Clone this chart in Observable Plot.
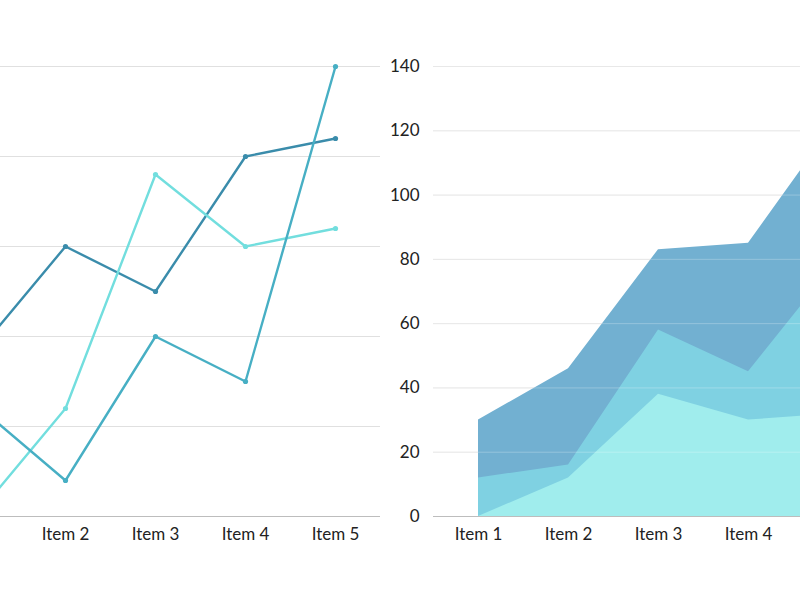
<!DOCTYPE html>
<html>
<head>
<meta charset="utf-8">
<script src="https://cdn.jsdelivr.net/npm/d3@7"></script>
<script src="https://cdn.jsdelivr.net/npm/@observablehq/plot@0.6"></script>
<style>
  html, body { margin: 0; padding: 0; background: #fff; }
  body { width: 800px; height: 600px; overflow: hidden; position: relative; font-family: Lato, "Noto Sans", sans-serif; }
  #left, #right { position: absolute; top: 0; }
  #left { left: -130px; width: 510px; }
  #right { left: 388px; width: 495px; }
  svg { max-width: none !important; }
</style>
</head>
<body>
<div id="left"></div>
<div id="right"></div>
<script>
const items = ["Item 1", "Item 2", "Item 3", "Item 4", "Item 5"];

// Left panel: line chart (three series)
const lineDark = [36, 60, 50, 80, 84];
const lineLight = [0, 24, 76, 60, 64];
const lineMid = [25, 8, 40, 30, 100];
const leftTicks = [0, 20, 40, 60, 80, 100];
const leftLabels = ["Item 2", "Item 3", "Item 4", "Item 5"];

// Right panel: area chart (three layers, drawn back to front)
const areaTop = [30, 46, 83, 85, 124];
const areaMiddle = [12, 16, 58, 45, 80];
const areaBottom = [0, 12, 38, 30, 32];
const rightTicks = [0, 20, 40, 60, 80, 100, 120, 140];

const lineSeries = [
  {name: "A", values: lineDark, color: "#3a8cab"},
  {name: "B", values: lineLight, color: "#72dede"},
  {name: "C", values: lineMid, color: "#47afc4"}
];
const lineRows = lineSeries.flatMap(s => s.values.map((v, i) => ({item: items[i], value: v, series: s.name})));

const areaSeries = [
  {name: "top", values: areaTop, color: "#72b0d1"},
  {name: "middle", values: areaMiddle, color: "#7fd1e2"},
  {name: "bottom", values: areaBottom, color: "#a0eded"}
];

const font = "Lato, 'Noto Sans', sans-serif";

const left = Plot.plot({
  width: 510,
  height: 566,
  marginLeft: 60,
  marginRight: 0,
  marginTop: 66,
  marginBottom: 50,
  style: {fontFamily: font, fontSize: "17px", color: "#222", background: "transparent"},
  x: {type: "point", domain: items, padding: 0.5, label: null, tickSize: 0, tickPadding: 11, ticks: leftLabels},
  y: {domain: [0, 100], axis: null},
  marks: [
    Plot.gridY(leftTicks, {stroke: "#e0e0e0", strokeOpacity: 1, strokeWidth: 1}),
    Plot.ruleY([0], {stroke: "#bdbdbd", strokeWidth: 1.2}),
    ...lineSeries.map(s => Plot.line(lineRows.filter(d => d.series === s.name), {x: "item", y: "value", stroke: s.color, strokeWidth: 2.4})),
    ...lineSeries.map(s => Plot.dot(lineRows.filter(d => d.series === s.name), {x: "item", y: "value", fill: s.color, r: 2.6}))
  ]
});
document.getElementById("left").appendChild(left);

const right = Plot.plot({
  width: 495,
  height: 566,
  marginLeft: 45,
  marginRight: 0,
  marginTop: 66,
  marginBottom: 50,
  style: {fontFamily: font, fontSize: "17px", color: "#222", background: "transparent"},
  x: {type: "point", domain: items, padding: 0.5, label: null, tickSize: 0, tickPadding: 11, ticks: items.slice(0, 4)},
  y: {domain: [0, 140], ticks: rightTicks, label: null, tickSize: 0, tickPadding: 14},
  marks: [
    Plot.gridY(rightTicks, {stroke: "#e0e0e0", strokeOpacity: 1}),
    ...areaSeries.map(s => Plot.areaY(s.values.map((v, i) => ({item: items[i], value: v})), {x: "item", y: "value", fill: s.color, fillOpacity: 1})),
    Plot.gridY(rightTicks, {stroke: "#ffffff", strokeOpacity: 0.25}),
    Plot.ruleY([0], {stroke: "#bdbdbd", strokeWidth: 1.2})
  ]
});
document.getElementById("right").appendChild(right);
</script>
</body>
</html>
